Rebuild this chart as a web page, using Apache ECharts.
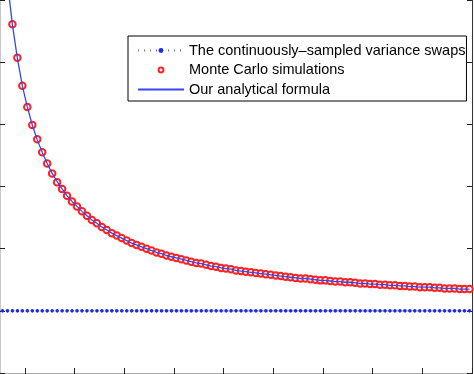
<!DOCTYPE html>
<html>
<head>
<meta charset="utf-8">
<script src="https://cdn.jsdelivr.net/npm/echarts@6/dist/echarts.min.js"></script>
<style>
  html, body { margin: 0; padding: 0; background: #fff; }
  #chart { width: 474px; height: 374px; }
</style>
</head>
<body>
<div id="chart"></div>
<script>
// sampling positions (x), shared by the continuous level and the formula curve
const nGrid = [
  5.5, 6.5, 7.5, 8.5, 9.5, 10.5, 11.5, 12.5, 13.5, 14.5, 15.5, 16.5, 17.5, 18.5, 19.5,
  20.5, 21.5, 22.5, 23.5, 24.5, 25.5, 26.5, 27.5, 28.5, 29.5, 30.5, 31.5, 32.5, 33.5, 34.5,
  35.5, 36.5, 37.5, 38.5, 39.5, 40.5, 41.5, 42.5, 43.5, 44.5, 45.5, 46.5, 47.5, 48.5, 49.5,
  50.5, 51.5, 52.5, 53.5, 54.5, 55.5, 56.5, 57.5, 58.5, 59.5, 60.5, 61.5, 62.5, 63.5, 64.5,
  65.5, 66.5, 67.5, 68.5, 69.5, 70.5, 71.5, 72.5, 73.5, 74.5, 75.5, 76.5, 77.5, 78.5, 79.5,
  80.5, 81.5, 82.5, 83.5, 84.5, 85.5, 86.5, 87.5, 88.5, 89.5, 90.5, 91.5, 92.5, 93.5, 94.5,
  95.5, 96.5, 97.5, 98.5, 99.5
]

// analytical formula (same x as nGrid)
const formulaValues = [
  7.25, 6.29, 5.60, 5.06, 4.62, 4.28, 3.99, 3.75, 3.55, 3.37, 3.21, 3.08, 2.96, 2.85, 2.76,
  2.68, 2.60, 2.53, 2.46, 2.41, 2.35, 2.30, 2.25, 2.21, 2.17, 2.13, 2.09, 2.06, 2.03, 2.00,
  1.97, 1.94, 1.92, 1.89, 1.87, 1.85, 1.83, 1.81, 1.79, 1.77, 1.76, 1.74, 1.72, 1.71, 1.69,
  1.68, 1.67, 1.65, 1.64, 1.63, 1.62, 1.61, 1.60, 1.59, 1.58, 1.57, 1.56, 1.55, 1.54, 1.53,
  1.52, 1.52, 1.51, 1.50, 1.49, 1.49, 1.48, 1.47, 1.47, 1.46, 1.46, 1.45, 1.44, 1.44, 1.43,
  1.43, 1.42, 1.42, 1.41, 1.41, 1.40, 1.40, 1.39, 1.39, 1.38, 1.38, 1.38, 1.37, 1.37, 1.36,
  1.36, 1.36, 1.35, 1.35, 1.35
]

// Monte Carlo points, start at x = 7.5
const mcN = nGrid.slice(2)
const mcValues = [
  5.61, 5.07, 4.62, 4.28, 3.99, 3.76, 3.55, 3.37, 3.21, 3.07, 2.96, 2.85, 2.76,
  2.68, 2.60, 2.53, 2.46, 2.41, 2.35, 2.30, 2.25, 2.21, 2.17, 2.13, 2.09, 2.06, 2.03, 2.00,
  1.97, 1.94, 1.92, 1.89, 1.87, 1.85, 1.83, 1.81, 1.79, 1.77, 1.76, 1.74, 1.72, 1.71, 1.69,
  1.68, 1.67, 1.65, 1.64, 1.63, 1.62, 1.61, 1.60, 1.59, 1.58, 1.57, 1.56, 1.55, 1.54, 1.53,
  1.52, 1.52, 1.51, 1.50, 1.49, 1.49, 1.48, 1.47, 1.47, 1.46, 1.46, 1.45, 1.44, 1.44, 1.43,
  1.43, 1.42, 1.42, 1.41, 1.41, 1.40, 1.40, 1.39, 1.39, 1.38, 1.38, 1.38, 1.37, 1.37, 1.36,
  1.36, 1.36, 1.35, 1.35, 1.35
]

// continuously-sampled level
const continuousLevel = 1

const xTicks = [10, 20, 30, 40, 50, 60, 70, 80, 90, 100]
const seriesNames = [
  'The continuously\u2013sampled variance swaps',
  'Monte Carlo simulations',
  'Our analytical formula'
]

const chart = echarts.init(document.getElementById('chart'))

const tick = { show: true, inside: true, length: 5, lineStyle: { color: '#222', width: 1 } }
const xTick = Object.assign({}, tick, { customValues: xTicks })

const option = {
  backgroundColor: '#fff',
  animation: false,
  grid: { left: 0, right: 2, top: 0, bottom: 1 },
  legend: {
    orient: 'vertical',
    left: 128,
    top: 36,
    data: [
      { name: seriesNames[0], lineStyle: { type: [1, 5], color: '#5a66ee' } },
      { name: seriesNames[1] },
      { name: seriesNames[2], itemStyle: { opacity: 0 } }
    ],
    selectedMode: false,
    itemWidth: 46,
    itemHeight: 6,
    itemGap: 4.5,
    padding: [7, 1, 4, 9],
    borderColor: '#000',
    borderWidth: 1,
    backgroundColor: '#fff',
    textStyle: { fontFamily: 'Liberation Sans', fontSize: 14.5, color: '#000' }
  },
  xAxis: [
    {
      type: 'value', min: 5, max: 100,
      axisLine: { show: true, lineStyle: { color: '#aaa' } },
      axisTick: xTick,
      axisLabel: { show: false },
      splitLine: { show: false }
    },
    {
      type: 'value', position: 'top', min: 5, max: 100,
      axisLine: { show: true, lineStyle: { color: '#aaa' } },
      axisTick: xTick,
      axisLabel: { show: false },
      splitLine: { show: false }
    }
  ],
  yAxis: [
    {
      type: 'value', min: 0, max: 6, interval: 1,
      axisLine: { show: true, lineStyle: { color: '#c8c8c8' } },
      axisTick: tick,
      axisLabel: { show: false },
      splitLine: { show: false }
    },
    {
      type: 'value', position: 'right', min: 0, max: 6, interval: 1,
      axisLine: { show: true, lineStyle: { color: '#333' } },
      axisTick: tick,
      axisLabel: { show: false },
      splitLine: { show: false }
    }
  ],
  series: [
    {
      name: seriesNames[0],
      type: 'line',
      data: nGrid.map(n => [n, continuousLevel]),
      symbol: 'circle',
      symbolSize: 3.6,
      itemStyle: { color: '#1a2ae8' },
      lineStyle: { color: '#1a2ae8', width: 1, type: [1, 4] },
      z: 2
    },
    {
      name: seriesNames[1],
      type: 'line',
      data: mcN.map((n, i) => [n, mcValues[i]]),
      symbol: 'emptyCircle',
      symbolSize: 6.5,
      itemStyle: { color: '#ff2020', borderWidth: 1 },
      lineStyle: { width: 0 },
      z: 3
    },
    {
      name: seriesNames[2],
      type: 'line',
      data: nGrid.map((n, i) => [n, formulaValues[i]]),
      symbol: 'none',
      itemStyle: { color: '#3347f0' },
      lineStyle: { color: '#3347f0', width: 1.3 },
      z: 4
    }
  ]
}

chart.setOption(option)
</script>
</body>
</html>
